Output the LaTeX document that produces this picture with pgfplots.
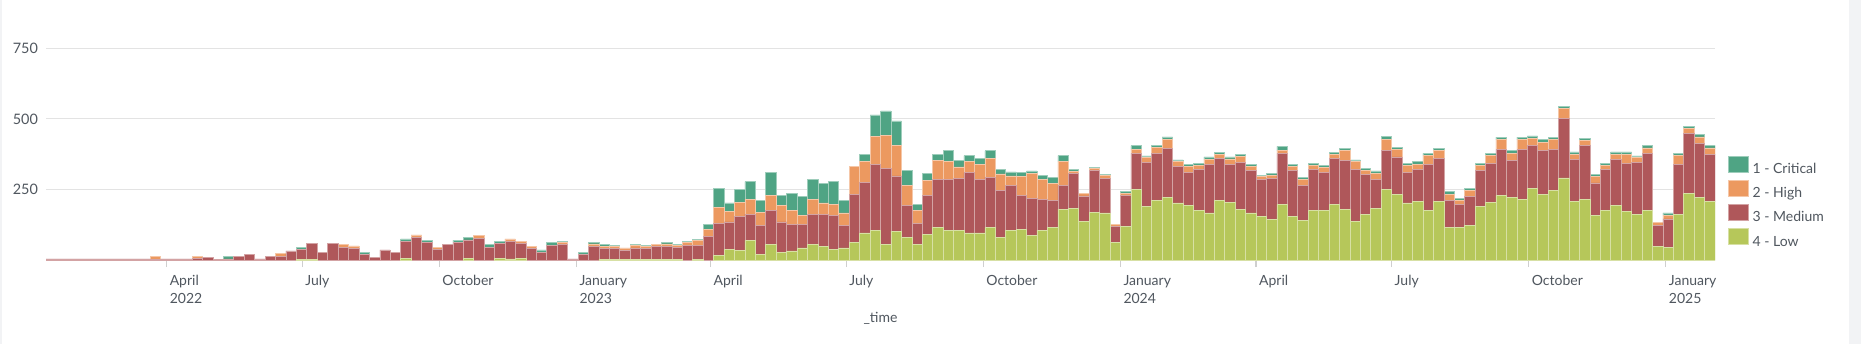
\documentclass[border=0pt]{standalone}
\usepackage{pgfplots}
\usepackage{pgfplotstable}
\pgfplotsset{compat=1.18}
\usepackage{fontspec}
\setmainfont{Lato}
\definecolor{cCrit}{HTML}{4FA484}
\definecolor{cHigh}{HTML}{EC9960}
\definecolor{cMed}{HTML}{AF575A}
\definecolor{cLow}{HTML}{B6C75A}
\definecolor{txt}{HTML}{50575F}
\definecolor{gridc}{HTML}{E3E3E3}
\definecolor{panel}{HTML}{F2F3F5}

\pgfplotstableread{
k crit high med low
0 0 0 4 0
1 0 0 4 0
2 0 0 4 0
3 0 0 4 0
4 0 0 4 0
5 0 0 4 0
6 0 0 4 0
7 0 0 4 0
8 0 0 4 0
9 0 0 4 0
10 0 11 3 0
11 0 0 4 0
12 0 0 4 0
13 0 0 4 0
14 0 8 6 0
15 0 0 9 0
16 0 0 3 0
17 10 0 4 0
18 0 0 14 0
19 0 0 19 0
20 0 0 4 0
21 0 0 14 0
22 0 9 14 0
23 0 0 32 0
24 7 0 37 2
25 0 0 56 3
26 0 0 28 0
27 0 0 59 0
28 0 8 46 0
29 0 8 42 0
30 8 0 20 0
31 0 0 10 0
32 0 0 36 0
33 0 0 28 0
34 8 0 62 5
35 0 9 80 0
36 8 0 62 0
37 0 8 37 0
38 0 0 54 0
39 8 0 62 0
40 9 0 66 5
41 0 9 77 0
42 8 0 46 0
43 8 0 54 5
44 0 9 62 4
45 0 8 54 5
46 0 8 41 0
47 8 0 28 0
48 9 0 53 0
49 5 8 54 0
50 0 0 4 0
51 9 0 19 0
52 5 9 48 0
53 5 9 37 3
54 5 7 37 3
55 0 8 33 2
56 5 8 40 3
57 4 7 38 3
58 0 8 45 3
59 5 8 46 3
60 5 7 41 3
61 5 9 52 0
62 5 16 50 3
63 18 25 84 0
64 69 54 116 15
65 29 38 96 39
66 47 48 120 35
67 63 52 93 70
68 43 46 101 21
69 81 53 119 56
70 35 58 109 26
71 62 48 95 32
72 67 31 83 43
73 70 53 106 56
74 70 40 113 49
75 81 40 118 39
76 45 45 79 43
77 0 101 171 61
78 27 72 180 96
79 77 97 234 106
80 87 116 269 56
81 88 107 196 102
82 53 70 114 80
83 21 45 75 56
84 26 54 136 92
85 21 67 170 115
86 39 63 180 106
87 22 40 184 106
88 21 40 213 96
89 22 53 189 96
90 26 68 178 115
91 16 58 167 80
92 14 34 158 106
93 14 67 119 109
94 9 88 131 88
95 14 70 109 106
96 22 62 95 115
97 22 85 83 180
98 5 8 123 184
99 0 9 90 137
100 2 8 149 168
101 5 9 123 167
102 0 8 56 62
103 5 9 108 120
104 14 13 128 250
105 6 16 157 190
106 6 21 167 211
107 8 32 175 221
108 7 15 131 202
109 7 20 117 194
110 7 14 146 176
111 9 18 171 167
112 8 14 149 211
113 7 20 135 203
114 7 20 167 180
115 7 14 150 167
116 4 9 131 155
117 7 11 146 144
118 16 9 181 197
119 7 14 162 155
120 9 21 123 141
121 7 14 146 176
122 7 16 135 176
123 8 14 163 197
124 8 35 173 180
125 7 27 184 137
126 8 13 142 162
127 8 23 101 184
128 13 39 137 250
129 9 26 133 232
130 8 23 109 202
131 8 19 113 208
132 8 32 162 176
133 8 27 153 208
134 11 21 96 115
135 6 14 83 115
136 8 22 101 123
137 8 18 127 190
138 8 27 140 203
139 9 35 162 229
140 8 27 131 221
141 9 35 176 215
142 8 27 150 255
143 8 31 155 232
144 9 35 144 247
145 7 36 210 291
146 9 18 148 208
147 8 18 190 215
148 8 22 114 159
149 8 14 144 176
150 9 18 162 194
151 9 31 170 173
152 6 16 184 163
153 8 19 202 176
154 0 11 73 49
155 8 13 101 45
156 8 32 175 163
157 8 18 211 237
158 8 22 193 221
159 8 23 166 208
}\sev

\begin{document}
\begin{tikzpicture}
\useasboundingbox (0,0) rectangle (930.5pt,-172pt);
\fill[panel] (0,0) rectangle (930.5pt,-172pt);
\fill[white] (0.8pt,0) rectangle (924.5pt,-172pt);
\begin{axis}[
  at={(23pt,-130pt)}, anchor=south west,
  scale only axis, width=834.5pt, height=105.85pt,
  ybar stacked, bar width=1,
  xmin=-0.5, xmax=159.5, ymin=0, ymax=750,
  ytick={250,500,750}, yticklabels={250,500,750},
  ymajorgrids, grid style={draw=gridc, line width=0.55pt},
  axis lines*=left,
  y axis line style={draw=none},
  x axis line style={draw=gridc!80!gray, line width=0.6pt},
  ytick style={draw=none},
  xtick style={draw=gridc!80!gray, line width=0.6pt},
  tick align=outside, major tick length=3.5pt,
  xtick={11.071,24.071,37.214,50.357,63.214,76.214,89.357,102.5,115.5,128.5,141.643,154.786},
  xticklabels={{April\\2022},July,October,{January\\2023},April,July,October,{January\\2024},April,July,October,{January\\2025}},
  xticklabel style={align=left, anchor=north west, xshift=-2pt, yshift=-0.6pt, font=\fontsize{7}{9}\selectfont, text=txt},
  yticklabel style={font=\fontsize{7.2}{9}\selectfont, text=txt, xshift=3pt},
  /pgf/number format/assume math mode=true,
  xlabel={\_time}, xlabel style={at={(axis description cs:0.5,0)}, anchor=center, yshift=-29pt, font=\fontsize{7}{9}\selectfont, text=txt},
  legend style={at={(1.0076,0.494)}, anchor=north west, draw=none, fill=none, inner sep=0pt,
    font=\fontsize{7}{9}\selectfont, text=txt,
    nodes={inner sep=0.6pt, text height=5.2pt, text depth=1.5pt},
    row sep=1.2pt, /tikz/every even column/.append style={column sep=0pt}},
  legend cell align=left, reverse legend,
  sw/.style={legend image code/.code={\draw[##1, line width=0.5pt] (0pt,-1.3pt) rectangle (10pt,6.7pt);}},
]
\addplot+[fill=cLow, draw=cLow!55!white, line width=0.3pt, sw] table[x=k, y=low] {\sev};
\addplot+[fill=cMed, draw=cMed!55!white, line width=0.3pt, sw] table[x=k, y=med] {\sev};
\addplot+[fill=cHigh, draw=cHigh!55!white, line width=0.3pt, sw] table[x=k, y=high] {\sev};
\addplot+[fill=cCrit, draw=cCrit!55!white, line width=0.3pt, sw] table[x=k, y=crit] {\sev};
\legend{\,4 - Low, \,3 - Medium, \,2 - High, \,1 - Critical}
\end{axis}
\end{tikzpicture}
\end{document}
